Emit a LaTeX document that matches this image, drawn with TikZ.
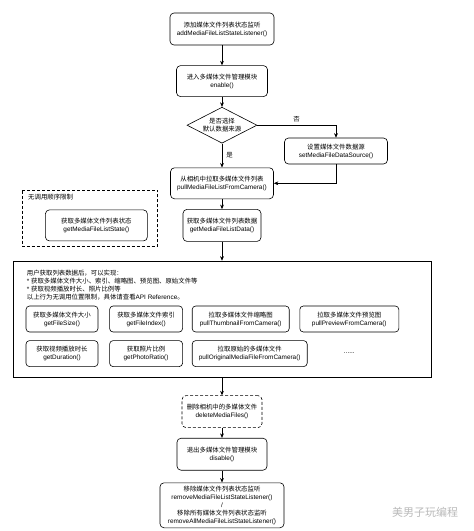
\documentclass[tikz,border=0pt]{standalone}
\usepackage{fontspec}
\setmainfont{Liberation Sans}
\newfontfamily\cjk{Noto Sans CJK SC}
\usetikzlibrary{shapes.geometric, arrows.meta, positioning}

\begin{document}
\begin{tikzpicture}[
  x=1pt, y=1pt,
  node distance=10pt and 10pt,
  box/.style={rectangle, draw=black, fill=white, line width=0.6pt, minimum height=31pt, text centered, align=center, rounded corners=4pt, inner sep=1pt, font=\fontsize{6.4}{8}\selectfont},
  optbox/.style={box, dashed, dash pattern=on 3pt off 2pt},
  choice/.style={diamond, draw=black, fill=white, line width=0.6pt, aspect=1.95, minimum width=70pt, minimum height=36pt, inner sep=0pt, align=center, font=\fontsize{6.4}{8}\selectfont},
  fn/.style={box, minimum height=26pt, rounded corners=3.5pt},
  panel/.style={rectangle, draw=black, line width=0.6pt, minimum width=418pt, minimum height=116pt},
  groupframe/.style={draw=black, line width=0.6pt, dash pattern=on 3pt off 2pt},
  note/.style={inner sep=0pt, align=left, font=\fontsize{6.4}{8}\selectfont},
  arrow/.style={line width=0.6pt, -{Stealth[length=4.5pt, width=3.8pt]}}
]
\useasboundingbox (0,0) rectangle (474,-531);

% Main Flow
\node (add) [box, minimum width=104pt, minimum height=32pt] at (222,-29) {{\cjk 添加媒体文件列表状态监听}\\addMediaFileListStateListener()};
\node (enable) [box, minimum width=91pt, below=20pt of add] {{\cjk 进入多媒体文件管理模块}\\enable()};
\node (source) [choice, below=10pt of enable] {{\cjk 是否选择}\\{\cjk 默认数据来源}};
\node (pull) [box, minimum width=103pt, below=24pt of source] {{\cjk 从相机中拉取多媒体文件列表}\\pullMediaFileListFromCamera()};
\node (setsrc) [box, minimum width=103pt, minimum height=26pt] at (336,-151) {{\cjk 设置媒体文件数据源}\\setMediaFileDataSource()};
\node (getdata) [box, minimum width=78pt, minimum height=32pt, below=10pt of pull] {{\cjk 获取多媒体文件列表数据}\\getMediaFileListData()};

% No order group
\node (getstate) [box, minimum width=102pt, left=35pt of getdata] {{\cjk 获取多媒体文件列表状态}\\getMediaFileListState()};
\draw [groupframe] ([xshift=-23pt, yshift=19pt]getstate.north west) rectangle ([xshift=10pt, yshift=-5pt]getstate.south east);
\node (nolimit) [note, anchor=west] at (28,-197) {\cjk 无调用顺序限制};

% Usage panel
\node (panel) [panel, below=19pt of getdata] {};
\node (usage) [note, anchor=north west] at ([xshift=14pt, yshift=-9pt]panel.north west) {{\cjk 用户获取列表数据后，可以实现：}\\*~{\cjk 获取多媒体文件大小、索引、缩略图、预览图、原始文件等}\\*~{\cjk 获取视频播放时长、照片比例等}\\{\cjk 以上行为无调用位置限制，具体请查看}API Reference{\cjk 。}};
\node (size) [fn, minimum width=72pt, anchor=north west] at ([xshift=13pt, yshift=-45pt]panel.north west) {{\cjk 获取多媒体文件大小}\\getFileSize()};
\node (index) [fn, minimum width=73pt, right=11pt of size] {{\cjk 获取多媒体文件索引}\\getFileIndex()};
\node (thumb) [fn, minimum width=97pt, right=9pt of index] {{\cjk 拉取多媒体文件缩略图}\\pullThumbnailFromCamera()};
\node (preview) [fn, minimum width=99pt, right=10pt of thumb] {{\cjk 拉取多媒体文件预览图}\\pullPreviewFromCamera()};
\node (duration) [fn, minimum width=72pt, below=8pt of size] {{\cjk 获取视频播放时长}\\getDuration()};
\node (ratio) [fn, minimum width=73pt, below=8pt of index] {{\cjk 获取照片比例}\\getPhotoRatio()};
\node (original) [fn, minimum width=115pt, anchor=north west] at ([yshift=-8pt]thumb.south west) {{\cjk 拉取原始的多媒体文件}\\pullOriginalMediaFileFromCamera()};
\node (more) [note] at (preview |- original) {......};

% Exit Flow
\node (delete) [optbox, minimum width=80pt, minimum height=32pt, below=18pt of panel] {{\cjk 删除相机中的多媒体文件}\\deleteMediaFiles()};
\node (disable) [box, minimum width=90pt, minimum height=32pt, below=10pt of delete] {{\cjk 退出多媒体文件管理模块}\\disable()};
\node (remove) [box, minimum width=124pt, minimum height=45pt, below=12pt of disable] {{\cjk 移除媒体文件列表状态监听}\\removeMediaFileListStateListener()\\/\\{\cjk 移除所有媒体文件列表状态监听}\\removeAllMediaFileListStateListener()};

\node (mark) [text=gray!55, font=\fontsize{11}{13}\selectfont] at (425,-512) {\cjk 美男子玩编程};

% Arrows
\draw [arrow] (add) -- (enable);
\draw [arrow] (enable) -- (source);
\draw [arrow] (source) -- (pull) node[midway, right=4pt, note] {\cjk 是};
\draw [arrow] (source.east) -| (setsrc.north) node[pos=0.25, above=3pt, note] {\cjk 否};
\draw [arrow] (setsrc.south) |- (pull.east);
\draw [arrow] (pull) -- (getdata);
\draw [arrow] (getdata) -- (panel);
\draw [arrow] (panel) -- (delete);
\draw [arrow] (delete) -- (disable);
\draw [arrow] (disable) -- (remove);
\end{tikzpicture}
\end{document}
